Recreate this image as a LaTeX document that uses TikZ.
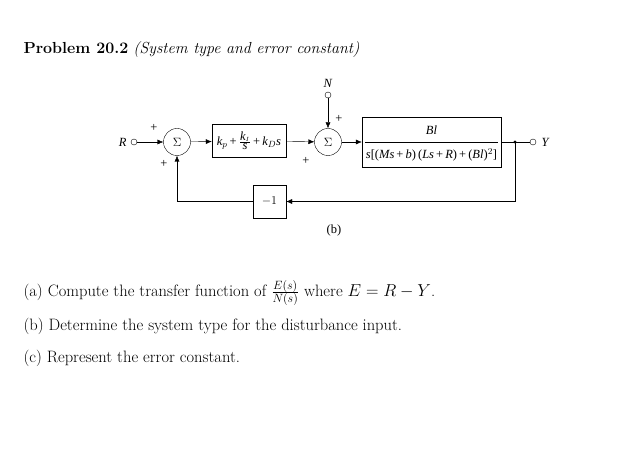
\documentclass[tikz,border=0pt]{standalone}
\usepackage{fontspec}
\newfontfamily\tms{Liberation Serif}
\usetikzlibrary{arrows.meta}
\begin{document}
\begin{tikzpicture}[x=1pt,y=-1pt,
  blk/.style={draw,thin,inner sep=0pt},
  sumc/.style={draw,thin,circle,minimum size=27pt,inner sep=0pt,font=\tms\fontsize{13}{15}\selectfont},
  term/.style={draw,thin,circle,minimum size=6pt,inner sep=0pt},
  sig/.style={-{Latex[length=6pt,width=5pt]},thin},
  lbl/.style={font=\tms\fontsize{12.5}{14}\selectfont},
  q/.style={anchor=west,font=\fontsize{16.5}{19}\selectfont}]
\useasboundingbox (0,0) rectangle (632,454);
\node[anchor=west,font=\fontsize{16}{19}\selectfont] (title) at (20,50) {\textbf{Problem 20.2} \textit{(System type and error constant)}};
% diagram
\node[term] (r) at (134,142) {};
\node[lbl,anchor=east] (rl) at (130,142) {\textit{R}};
\node[sumc] (s1) at (177,142) {$\Sigma$};
\node[blk,minimum width=74pt,minimum height=33pt] (pid) at (249,141) {\tms\fontsize{12.5}{14}\selectfont \textit{k$_p$}\,+\,$\frac{\textit{k}_I}{\textit{s}}$\,+\,\textit{k$_D$s}};
\node[sumc] (s2) at (328,142) {$\Sigma$};
\node[term] (n) at (328,95) {};
\node[lbl] (nl) at (328,83) {\textit{N}};
\node[blk,minimum width=139pt,minimum height=50pt] (plant) at (431.5,142) {};
\node[lbl] (num) at (431.5,130) {\textit{Bl}};
\node[lbl] (den) at (431.5,155) {\textit{s}[(\textit{Ms}\,+\,\textit{b})\,(\textit{Ls}\,+\,\textit{R})\,+\,(\textit{Bl})$^2$]};
\draw[thin] (365,142) -- (498,142);
\coordinate (j) at (515,142);
\node[term] (y) at (533,142) {};
\node[lbl,anchor=west] (yl) at (538,142) {\textit{Y}};
\node[blk,minimum width=33pt,minimum height=33pt] (fb) at (269.5,201.5) {\tms\fontsize{12.5}{14}\selectfont $-1$};
\node[lbl] (b) at (334,230) {(b)};
\draw[sig] (r) -- (s1);
\draw[sig] (s1) -- (pid);
\draw[sig] (pid) -- (s2);
\draw[sig] (n) -- (s2);
\draw[sig] (s2) -- (plant);
\draw[thin] (plant) -- (y);
\fill (j) circle (1.6pt);
\draw[sig] (j) |- (fb);
\draw[sig] (fb) -| (s1);
\node[lbl] at (154,128) {+};
\node[lbl] at (164,164) {+};
\node[lbl] at (339,119) {+};
\node[lbl] at (306,161) {+};
% questions
\node[q] (qa) at (20,293) {(a) Compute the transfer function of $\frac{E(s)}{N(s)}$ where $E=R-Y$.};
\node[q] (qb) at (20,326) {(b) Determine the system type for the disturbance input.};
\node[q] (qc) at (20,358) {(c) Represent the error constant.};
\end{tikzpicture}
\end{document}
